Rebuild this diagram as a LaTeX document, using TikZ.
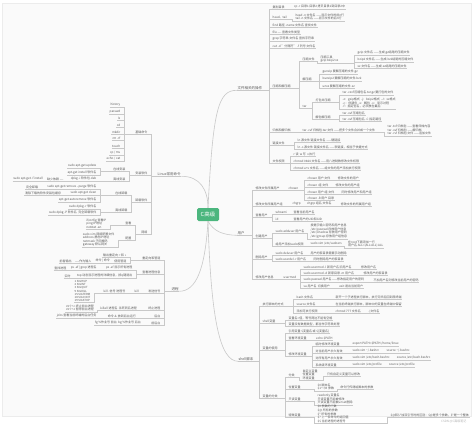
\documentclass[tikz,border=0pt]{standalone}
\usepackage{fontspec}
\setmainfont{Noto Sans CJK SC}
\usepackage{tikz}
\usetikzlibrary{positioning, calc}

\definecolor{rootgreen}{RGB}{76,182,126}
\definecolor{linegray}{RGB}{200,200,200}
\definecolor{textgray}{RGB}{88,88,88}
\definecolor{canvasgray}{RGB}{250,250,250}

% link from a parent to a child on its right / on its left
\newcommand{\tor}[2]{\draw[link] (#1.south east) -- ($(#1.south east -| #2.south west)+(-3,0)$) |- (#2.south west);}
\newcommand{\tol}[2]{\draw[link] (#1.south west) -- ($(#1.south west -| #2.south east)+(3,0)$) |- (#2.south east);}

\begin{document}
\begin{tikzpicture}[x=1pt, y=-1pt,
    link/.style={draw=linegray, line width=0.3pt},
    branch/.style={draw=linegray, line width=0.6pt},
    leaf/.style={inner sep=0.5pt, text=textgray, align=left,
                 font=\fontsize{3}{3.6}\selectfont,
                 append after command={(\tikzlastnode.south west) edge[link] (\tikzlastnode.south east)}},
    rleaf/.style={leaf, anchor=west},
    lleaf/.style={leaf, anchor=east},
    topic/.style={leaf, font=\fontsize{3.5}{4}\selectfont},
    rootbox/.style={fill=rootgreen, text=white, rounded corners=1.5pt,
                 minimum width=22pt, minimum height=13pt, inner sep=1pt,
                 font=\fontsize{5.5}{6}\selectfont}
]
  \useasboundingbox (0,0) rectangle (474,425);
  \fill[white] (0,0) rectangle (474,425);
  \draw[fill=canvasgray, draw=gray!15, line width=0.4pt] (2,3) rectangle (471,416);

  % centre and main topics
  \node[rootbox] (root) at (208,214.5) {C高级};
  \node[topic, anchor=west] (file) at (237,88) {文件相关的操作};
  \node[topic, anchor=west] (linux) at (157,174) {Linux常用命令};
  \node[topic, anchor=west] (proc) at (171,289) {进程};
  \node[topic, anchor=west] (user) at (237,233) {用户};
  \node[topic, anchor=west] (shell) at (238,359) {shell脚本};

  \draw[branch] (root.north) .. controls (213,110) and (218,90) .. (file.south west);
  \draw[branch] (root.north) .. controls (208,190) and (200,176) .. (linux.south east);
  \draw[branch] (root.south) .. controls (214,232) and (224,235) .. (user.south west);
  \draw[branch] (root.south) .. controls (211,320) and (220,361) .. (shell.south west);
  \draw[branch] (root.south) .. controls (205,270) and (196,291) .. (proc.south east);

  % file operations
  \node[rleaf] (f1) at (272,7) {复制目录};
  \node[rleaf, right=8pt of f1] (f1a) {cp -r 目录1 目录2 拷贝目录1到目录2中};
  \node[rleaf] (f2) at (272,17) {head、tail};
  \node[rleaf, right=7pt of f2] (f2a) {head -n 文件名 ——显示文件的前n行\\tail -n 文件名 ——显示文件的后n行};
  \node[rleaf] (f3) at (272,25) {find 路径 -name 文件名 查找文件};
  \node[rleaf] (f4) at (272,32) {file ---- 查看文件类型};
  \node[rleaf] (f5) at (272,39) {grep 字符串 文件名 查找字符串};
  \node[rleaf] (f6) at (272,46) {cut -d "分隔符" -f 列号 文件名};
  \node[rleaf] (f7) at (272,86) {压缩和解压缩};
  \node[rleaf] (f7a) at (302,59) {压缩文件};
  \node[rleaf] (f7a1) at (320,59) {压缩工具\\gzip bzip2 xz};
  \node[rleaf] (f7a11) at (357,53) {gzip 文件名 ——生成.gz结尾的压缩文件};
  \node[rleaf] (f7a12) at (357,59.5) {bzip2 文件名 ——生成.bz2结尾的压缩文件};
  \node[rleaf] (f7a13) at (357,66) {xz 文件名 ——生成.xz结尾的压缩文件};
  \node[rleaf] (f7b) at (302,79) {解压缩};
  \node[rleaf] (f7b1) at (322,72) {gunzip 要解压缩的文件.gz};
  \node[rleaf] (f7b2) at (322,79) {bunzip2 要解压缩的文件.bz2};
  \node[rleaf] (f7b3) at (322,86) {unxz 要解压缩的文件.xz};
  \node[rleaf] (f7c) at (302,106) {tar};
  \node[rleaf] (f7c1) at (315,100) {打包并压缩};
  \node[rleaf] (f7c11) at (342,93) {tar -czvf 压缩包名.tar.gz 要打包的文件};
  \node[rleaf] (f7c12) at (342,103) {-z：gzip格式 \ -j：bzip2格式 \ -J：xz格式\\-c：创建包 \ -x：解包 \ -v：显示过程\\-f：指定包名，必须放在最后};
  \node[rleaf] (f7c2) at (315,117) {解包解压缩};
  \node[rleaf] (f7c21) at (342,113) {tar -xvf 压缩包名};
  \node[rleaf] (f7c22) at (342,119) {tar -xvf 压缩包名 -C 指定路径};
  \node[rleaf] (f8) at (272,130) {归档和解归档};
  \node[rleaf] (f8a) at (302,130) {tar -cvf 归档包.tar 文件 ——把多个文件合并成一个文件};
  \node[rleaf] (f8b) at (387,130) {tar -tvf 归档包 ——查看归档内容\\tar -xvf 归档包 ——解归档\\tar -rvf 归档包 文件 ——追加文件};
  \node[rleaf] (f9) at (272,143) {链接文件};
  \node[rleaf] (f91) at (297,140) {ln 源文件 链接文件名 ——硬链接};
  \node[rleaf] (f92) at (297,147) {ln -s 源文件 链接文件名 ——软链接，相当于快捷方式};
  \node[rleaf] (f10) at (272,161) {文件权限};
  \node[rleaf] (f101) at (293,154) {r 读 \ w 写 \ x 执行};
  \node[rleaf] (f102) at (293,161) {chmod 0664 文件名 ——用八进制数修改文件权限};
  \node[rleaf] (f103) at (293,168) {chmod u+x 文件名 ——给文件的用户添加执行权限};

  \foreach \c in {f1,f2,f3,f4,f5,f6,f7,f8,f9,f10} {\tor{file}{\c}}
  \tor{f1}{f1a} \tor{f2}{f2a}
  \foreach \c in {f7a,f7b,f7c} {\tor{f7}{\c}}
  \tor{f7a}{f7a1}
  \foreach \c in {f7a11,f7a12,f7a13} {\tor{f7a1}{\c}}
  \foreach \c in {f7b1,f7b2,f7b3} {\tor{f7b}{\c}}
  \tor{f7c}{f7c1} \tor{f7c}{f7c2}
  \tor{f7c1}{f7c11} \tor{f7c1}{f7c12}
  \tor{f7c2}{f7c21} \tor{f7c2}{f7c22}
  \tor{f8}{f8a} \tor{f8a}{f8b}
  \tor{f9}{f91} \tor{f9}{f92}
  \foreach \c in {f101,f102,f103} {\tor{f10}{\c}}

  % users
  \node[rleaf] (u1) at (255,188) {修改文件所属用户};
  \node[rleaf] (u1a) at (288,188) {chown};
  \node[rleaf] (u1a1) at (307,178) {chown 用户 文件};
  \node[rleaf] (u1a2) at (307,185) {chown :组 文件};
  \node[rleaf] (u1a3) at (307,192) {chown 用户:组 文件};
  \node[rleaf] (u1a4) at (307,198) {chown -R 用户 目录};
  \node[rleaf, right=6pt of u1a1] (u1b1) {修改文件的用户};
  \node[rleaf, right=6pt of u1a2] (u1b2) {修改文件的用户组};
  \node[rleaf, right=6pt of u1a3] (u1b3) {同时修改用户和用户组};
  \node[rleaf] (u2) at (255,204) {修改文件所属用户组};
  \node[rleaf] (u2a) at (292,204) {chgrp};
  \node[rleaf, right=5pt of u2a] (u2b) {chgrp 组名 文件名};
  \node[rleaf, right=8pt of u2b] (u2c) {修改文件的所属用户组};
  \node[rleaf] (u3) at (255,215) {查看用户};
  \node[rleaf] (u3a) at (275,212) {whoami};
  \node[rleaf] (u3b) at (275,219) {id};
  \node[rleaf] (u3a1) at (293,212) {查看当前用户名};
  \node[rleaf] (u3b1) at (293,219) {查看用户的UID和GID};
  \node[rleaf] (u4) at (255,236) {创建用户};
  \node[rleaf] (u4a) at (275,231) {sudo adduser 用户名};
  \node[rleaf] (u4a1) at (310,231) {按提示输入密码和用户信息\\/etc/passwd 存放用户信息\\/etc/shadow 存放用户密码\\/etc/group 存放用户组信息};
  \node[rleaf] (u4b) at (275,244) {给用户添加sudo权限};
  \node[rleaf] (u4b1) at (310,244) {sudo vim /etc/sudoers};
  \node[rleaf, right=5pt of u4b1] (u4b2) {在root下面添加一行\\用户名 ALL=(ALL:ALL) ALL};
  \node[rleaf] (u5) at (255,257) {删除用户};
  \node[rleaf] (u5a) at (275,253) {sudo deluser 用户名};
  \node[rleaf] (u5b) at (275,259) {sudo userdel -r 用户名};
  \node[rleaf] (u5a1) at (310,253) {用户的家目录需要手动删除};
  \node[rleaf] (u5b1) at (313,259) {同时删除用户的家目录};
  \node[rleaf] (u6) at (255,277) {修改用户信息};
  \node[rleaf] (u6a) at (283,277) {usermod};
  \node[rleaf] (u6a1) at (303,267) {sudo usermod -l 新用户名 旧用户名};
  \node[rleaf] (u6a2) at (303,273) {sudo usermod -d 新家目录 -m 用户名};
  \node[rleaf] (u6a3) at (303,280) {sudo passwd 用户名 ——修改指定用户的密码};
  \node[rleaf] (u6a4) at (303,286) {su 用户名 \ 切换用户};
  \node[rleaf, right=8pt of u6a1] (u6b1) {修改用户名};
  \node[rleaf, right=8pt of u6a2] (u6b2) {修改用户的家目录};
  \node[rleaf, right=8pt of u6a3] (u6b3) {不加用户名则修改当前用户的密码};
  \node[rleaf, right=8pt of u6a4] (u6b4) {exit 退出当前用户};

  \foreach \c in {u1,u2,u3,u4,u5,u6} {\tor{user}{\c}}
  \tor{u1}{u1a}
  \foreach \c in {u1a1,u1a2,u1a3,u1a4} {\tor{u1a}{\c}}
  \tor{u1a1}{u1b1} \tor{u1a2}{u1b2} \tor{u1a3}{u1b3}
  \tor{u2}{u2a} \tor{u2a}{u2b} \tor{u2b}{u2c}
  \tor{u3}{u3a} \tor{u3}{u3b} \tor{u3a}{u3a1} \tor{u3b}{u3b1}
  \tor{u4}{u4a} \tor{u4}{u4b} \tor{u4a}{u4a1} \tor{u4b}{u4b1} \tor{u4b1}{u4b2}
  \tor{u5}{u5a} \tor{u5}{u5b} \tor{u5a}{u5a1} \tor{u5b}{u5b1}
  \tor{u6}{u6a}
  \foreach \c in {u6a1,u6a2,u6a3,u6a4} {\tor{u6a}{\c}}
  \tor{u6a1}{u6b1} \tor{u6a2}{u6b2} \tor{u6a3}{u6b3} \tor{u6a4}{u6b4}

  % shell scripts
  \node[rleaf] (s1) at (262,304) {执行脚本的方式};
  \node[rleaf] (s1a) at (296,297) {bash 文件名};
  \node[rleaf] (s1b) at (296,304) {source 文件名};
  \node[rleaf] (s1c) at (296,311) {添加可执行权限};
  \node[rleaf] (s1a1) at (335,297) {新开一个子进程执行脚本，执行完毕后回到原终端};
  \node[rleaf] (s1b1) at (335,304) {在当前终端执行脚本，脚本中的变量在终端中保留};
  \node[rleaf] (s1c1) at (335,311) {chmod 777 文件名};
  \node[rleaf, right=6pt of s1c1] (s1c2) {./文件名};
  \node[rleaf] (s2) at (262,321) {shell变量};
  \node[rleaf] (s2a) at (288,318) {变量名=值，等号两边不能有空格};
  \node[rleaf] (s2b) at (288,324) {变量没有数据类型，都当作字符串处理};
  \node[rleaf] (s3) at (262,348) {变量的使用};
  \node[rleaf] (s3a) at (288,331) {引用变量 \$变量名 或 \$\{变量名\}};
  \node[rleaf] (s3b) at (288,338) {查看环境变量};
  \node[rleaf, right=8pt of s3b] (s3b1) {echo \$PATH};
  \node[rleaf] (s3c) at (288,354) {修改环境变量};
  \node[rleaf] (s3c1) at (315,344) {临时修改环境变量};
  \node[rleaf] (s3c2) at (315,351) {对当前用户永久有效};
  \node[rleaf] (s3c3) at (315,358) {对所有用户永久有效};
  \node[rleaf] (s3c4) at (315,365) {系统级环境变量};
  \node[rleaf] (s3d1) at (352,344) {export PATH=\$PATH:/home/linux};
  \node[rleaf] (s3d2) at (352,351) {sudo vim \textasciitilde/.bashrc};
  \node[rleaf] (s3d3) at (352,358) {sudo vim /etc/bash.bashrc};
  \node[rleaf] (s3d4) at (352,365) {sudo vim /etc/profile};
  \node[rleaf, right=6pt of s3d2] (s3e2) {source \textasciitilde/.bashrc};
  \node[rleaf, right=6pt of s3d3] (s3e3) {source /etc/bash.bashrc};
  \node[rleaf, right=6pt of s3d4] (s3e4) {source /etc/profile};
  \node[rleaf] (s4) at (262,396) {变量的分类};
  \node[rleaf] (s4a) at (288,375) {分类};
  \node[rleaf] (s4a1) at (302,374.5) {自定义变量\\位置变量\\环境变量};
  \node[rleaf, right=8pt of s4a1] (s4a2) {只有自定义变量可以修改};
  \node[rleaf] (s4b) at (288,387) {位置变量};
  \node[rleaf] (s4b1) at (317,387) {\$0 脚本名\\\$1～\$9 参数};
  \node[rleaf, right=5pt of s4b1] (s4b2) {命令行传递给脚本的参数};
  \node[rleaf] (s4c) at (288,399) {只读变量};
  \node[rleaf] (s4c1) at (317,399) {readonly 变量名\\只读变量不能被修改\\只读变量不能被unset删除};
  \node[rleaf] (s4d) at (288,415) {特殊变量};
  \node[rleaf] (s4d1) at (317,414) {\$\# 参数的个数\\\$@ 所有的参数\\\$* 所有的参数\\\$? 上一条命令的返回值\\\$\$ 当前进程的进程号};
  \node[rleaf] (s4d2) at (390,415) {\$@和\$*加双引号时的区别：\$@是多个参数，\$*是一个整体};

  \foreach \c in {s1,s2,s3,s4} {\tor{shell}{\c}}
  \foreach \c in {s1a,s1b,s1c} {\tor{s1}{\c}}
  \tor{s1a}{s1a1} \tor{s1b}{s1b1} \tor{s1c}{s1c1} \tor{s1c1}{s1c2}
  \tor{s2}{s2a} \tor{s2}{s2b}
  \foreach \c in {s3a,s3b,s3c} {\tor{s3}{\c}}
  \tor{s3b}{s3b1}
  \foreach \c in {s3c1,s3c2,s3c3,s3c4} {\tor{s3c}{\c}}
  \tor{s3c1}{s3d1} \tor{s3c2}{s3d2} \tor{s3c3}{s3d3} \tor{s3c4}{s3d4}
  \tor{s3d2}{s3e2} \tor{s3d3}{s3e3} \tor{s3d4}{s3e4}
  \foreach \c in {s4a,s4b,s4c,s4d} {\tor{s4}{\c}}
  \tor{s4a}{s4a1} \tor{s4a1}{s4a2}
  \tor{s4b}{s4b1} \tor{s4b1}{s4b2}
  \tor{s4c}{s4c1} \tor{s4d}{s4d1} \tor{s4d1}{s4d2}

  % linux commands
  \node[lleaf] (l1) at (148,132) {基础命令};
  \foreach \t/\y [count=\i] in {history/105, passwd/112, ls/118, cd/125, mkdir/132, rm -rf/138, touch/146, {cp / mv}/153, {echo / cat}/159} {
    \node[lleaf] (l1\i) at (121,\y) {\t};
    \tol{l1}{l1\i}
  }
  \node[lleaf] (l2) at (148,173) {安装软件};
  \node[lleaf] (l2a) at (126,169) {在线安装};
  \node[lleaf] (l2b) at (126,179) {离线安装};
  \node[lleaf] (l2a1) at (97,166) {sudo apt-get update};
  \node[lleaf] (l2a2) at (97,173) {apt-get install 软件名};
  \node[lleaf] (l2b1) at (97,179) {dpkg -i 软件包.deb};
  \node[lleaf, left=6pt of l2b1] (l2b2) {缺少依赖 ----};
  \node[lleaf, left=3pt of l2b2] (l2b3) {sudo apt-get -f install};
  \node[lleaf] (l3) at (148,200) {卸载软件};
  \node[lleaf] (l3a) at (128,193) {在线卸载};
  \node[lleaf] (l3b) at (128,210) {离线卸载};
  \node[lleaf] (l3a1) at (97,187) {sudo apt-get remove --purge 软件名};
  \node[lleaf] (l3a2) at (97,193) {sudo apt-get clean};
  \node[lleaf] (l3a3) at (97,200) {apt-get autoremove 软件名};
  \node[lleaf, left=8pt of l3a1] (l3a11) {完全卸载};
  \node[lleaf, left=8pt of l3a2] (l3a21) {清除下载的软件安装包缓存};
  \node[lleaf] (l3b1) at (97,207) {sudo dpkg -r 软件名};
  \node[lleaf] (l3b2) at (97,213) {sudo dpkg -P 软件名 \ 完全卸载软件};
  \node[lleaf] (l4) at (148,232) {网络};
  \node[lleaf] (l4a) at (132,223) {查看};
  \node[lleaf] (l4b) at (132,238) {配置};
  \node[lleaf] (l4a1) at (107,223.5) {ifconfig 查看IP\\ping IP地址\\netstat -an};
  \node[lleaf] (l4b1) at (115,239.5) {sudo vim 网络配置文件\\address 静态IP地址\\netmask 子网掩码\\gateway 默认网关};

  \foreach \c in {l1,l2,l3,l4} {\tol{linux}{\c}}
  \tol{l2}{l2a} \tol{l2}{l2b}
  \tol{l2a}{l2a1} \tol{l2a}{l2a2}
  \tol{l2b}{l2b1} \tol{l2b1}{l2b2} \tol{l2b2}{l2b3}
  \tol{l3}{l3a} \tol{l3}{l3b}
  \foreach \c in {l3a1,l3a2,l3a3} {\tol{l3a}{\c}}
  \tol{l3a1}{l3a11} \tol{l3a2}{l3a21}
  \tol{l3b}{l3b1} \tol{l3b}{l3b2}
  \tol{l4}{l4a} \tol{l4}{l4b}
  \tol{l4a}{l4a1} \tol{l4b}{l4b1}

  % processes
  \node[lleaf] (p1) at (161,258) {重定向和管道};
  \node[lleaf] (p1a) at (127,255) {输出重定向 > 和 >>};
  \node[lleaf] (p1b) at (127,261) {使用管道};
  \node[lleaf, left=3pt of p1b] (p1b1) {命令 | 命令};
  \node[lleaf, left=3pt of p1b1] (p1b2) {-----作为输入};
  \node[lleaf, left=2pt of p1b2] (p1b3) {前者输出};
  \node[lleaf] (p2) at (161,272) {查看进程信息};
  \node[lleaf] (p2a) at (133,268) {ps -ef 显示所有进程};
  \node[lleaf, left=8pt of p2a] (p2a1) {ps -ef | grep 进程名};
  \node[lleaf, left=3pt of p2a1] (p2a2) {查找进程};
  \node[lleaf] (p2b) at (133,276) {top 动态显示进程的详细信息，按q键退出};
  \node[lleaf, left=5pt of p2b] (p2b1) {实时};
  \node[lleaf] (p3) at (161,291) {发送信号};
  \node[lleaf, left=8pt of p3] (p3a) {kill};
  \node[lleaf, left=8pt of p3a] (p3b) {kill -信号 进程号};
  \node[lleaf, left=12pt of p3b, font=\fontsize{2.8}{3.05}\selectfont] (p3c) {1 SIGHUP\\2 SIGINT\\3 SIGQUIT\\9 SIGKILL\\15 SIGTERM\\18 SIGCONT\\19 SIGSTOP};
  \node[lleaf] (p4) at (161,308) {终止进程};
  \node[lleaf, left=10pt of p4] (p4a) {killall 进程名 \ 杀死同名进程};
  \node[lleaf, left=5pt of p4a] (p4b) {ctrl + c 终止前台进程\\ctrl + z 暂停前台进程};
  \node[lleaf] (p5) at (161,316) {后台};
  \node[lleaf, left=17pt of p5] (p5a) {命令 \& \ 放到后台运行};
  \node[lleaf, left=10pt of p5a] (p5b) {jobs 查看当前终端的后台任务};
  \node[lleaf] (p6) at (161,323) {前后台};
  \node[lleaf, left=9pt of p6] (p6a) {fg \%作业号 前台 \ bg \%作业号 后台};

  \foreach \c in {p1,p2,p3,p4,p5,p6} {\tol{proc}{\c}}
  \tol{p1}{p1a} \tol{p1}{p1b} \tol{p1b}{p1b1} \tol{p1b1}{p1b2} \tol{p1b2}{p1b3}
  \tol{p2}{p2a} \tol{p2}{p2b} \tol{p2a}{p2a1} \tol{p2a1}{p2a2} \tol{p2b}{p2b1}
  \tol{p3}{p3a} \tol{p3a}{p3b} \tol{p3b}{p3c}
  \tol{p4}{p4a} \tol{p4a}{p4b}
  \tol{p5}{p5a} \tol{p5a}{p5b}
  \tol{p6}{p6a}

  \node[font=\fontsize{3}{3}\selectfont, text=gray!60, anchor=east] (mark) at (470,421) {CSDN @C高级笔记};
\end{tikzpicture}
\end{document}
